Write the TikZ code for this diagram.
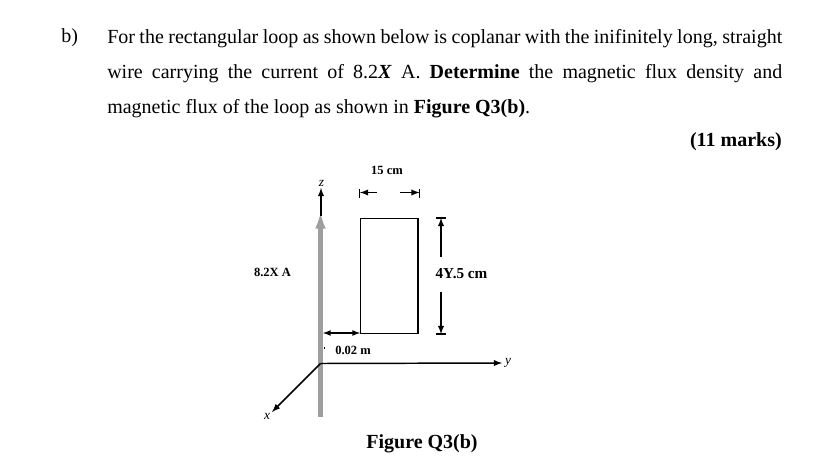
\documentclass[tikz,border=0pt]{standalone}
\usepackage{fontspec}
\setmainfont{Liberation Serif}
\tikzstyle{tS}=[inner sep = 0pt,font=\fontsize{15}{26.25}\selectfont]
\tikzstyle{tB}=[inner sep = 0pt,font=\fontsize{15}{26.25}\selectfont\bfseries]
\tikzstyle{lS}=[inner sep = 0pt,font=\fontsize{9.4}{10}\selectfont\bfseries]
\tikzstyle{lL}=[inner sep = 0pt,font=\fontsize{11.4}{12}\selectfont\bfseries]
\tikzstyle{aS}=[inner sep = 0pt,font=\fontsize{10}{10}\selectfont\itshape]
\tikzstyle{loopS}=[draw,line width=1.1pt,inner sep = 0pt,minimum width=43pt,minimum height=86.5pt]
\tikzstyle{eA}=[line width=1.1pt,-latex]
\tikzstyle{eD}=[line width=1pt,latex-latex]
\tikzstyle{eT}=[line width=1pt]
\tikzstyle{eW}=[line width=3.4pt,draw=black!38,-{Latex[length=17pt,width=7.5pt]}]
\usetikzlibrary{arrows.meta}
\begin{document}
\begin{tikzpicture}[x=0.75pt,y=-0.75pt]
    \useasboundingbox (0,0) rectangle (816,466);
    % question text
    \draw (61,38) node[tS,anchor=west] (nB) {b)};
    \draw (107,29) node[tS,anchor=north west,text width=506.25pt,align=justify] (nText) {For the rectangular loop as shown below is coplanar with the inifinitely long, straight\linebreak wire carrying the current of 8.2\textbf{\textit{X}} A. \textbf{Determine} the magnetic flux density and\linebreak magnetic flux of the loop as shown in \textbf{Figure Q3(b)}.};
    \draw (782,142) node[tB,anchor=east] (nMarks) {(11 marks)};
    \draw (422,443.5) node[tB] (nFig) {Figure Q3(b)};
    % labels
    \draw (272.5,272.5) node[lS] (nI) {8.2X A};
    \draw (387,170) node[lS] (nW) {15 cm};
    \draw (461.5,273.5) node[lL] (nH) {4Y.5 cm};
    \draw (353,350) node[lS] (nD) {0.02 m};
    \draw (321.5,183) node[aS] (nZ) {z};
    \draw (508,363) node[aS] (nY) {y};
    \draw (267,416) node[aS] (nX) {x};
    % loop
    \draw (389.3,276) node[loopS] (nLoop) {};
    % points
    \coordinate (wBot) at (320.5,417);
    \coordinate (wTop) at (320.5,206);
    \coordinate (zTop) at (321,188);
    \coordinate (zBot) at (321,216);
    \coordinate (o) at (320.5,363.5);
    \coordinate (yEnd) at (502,363);
    \coordinate (xEnd) at (272,412);
    \coordinate (wA) at (323,333);
    \coordinate (wB) at (360,333);
    \coordinate (mark1) at (323.5,348);
    \coordinate (mark2) at (325,348);
    \coordinate (wL) at (360,192.5);
    \coordinate (wLa) at (377,192.5);
    \coordinate (wR) at (419.5,192.5);
    \coordinate (wRa) at (400,192.5);
    \coordinate (wL1) at (359.5,189);
    \coordinate (wL2) at (359.5,198);
    \coordinate (wR1) at (419.5,189);
    \coordinate (wR2) at (419.5,198);
    \coordinate (hT) at (441,218);
    \coordinate (hTa) at (441,257);
    \coordinate (hB) at (441,334);
    \coordinate (hBa) at (441,292);
    \coordinate (hT1) at (436,218);
    \coordinate (hT2) at (446,218);
    \coordinate (hB1) at (436,334);
    \coordinate (hB2) at (446,334);
    \path
        (wBot) edge[eW] (wTop)
        (zBot) edge[eA] (zTop)
        (o) edge[eA] (yEnd)
        (o) edge[eA] (xEnd)
        (wA) edge[eD] (wB)
        (mark1) edge[eT] (mark2)
        (wLa) edge[eA] (wL)
        (wRa) edge[eA] (wR)
        (wL1) edge[eT] (wL2)
        (wR1) edge[eT] (wR2)
        (hTa) edge[eA] (hT)
        (hBa) edge[eA] (hB)
        (hT1) edge[eT] (hT2)
        (hB1) edge[eT] (hB2)
    ;
\end{tikzpicture}
\end{document}
